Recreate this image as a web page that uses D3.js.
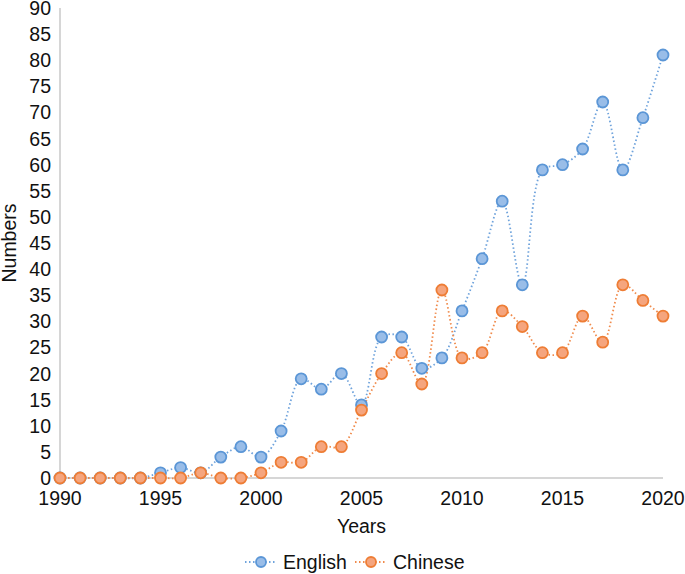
<!DOCTYPE html>
<html>
<head>
<meta charset="utf-8">
<script src="https://cdn.jsdelivr.net/npm/d3@7"></script>
<style>
  body { margin: 0; background: #fff; }
  text { font-family: "Liberation Sans", Arial, sans-serif; fill: #111; }
</style>
</head>
<body>
<svg id="chart" width="685" height="574"></svg>
<script>
const years = d3.range(1990, 2021)
const english = [0, 0, 0, 0, 0, 1, 2, 1, 4, 6, 4, 9, 19, 17, 20, 14, 27, 27, 21, 23, 32, 42, 53, 37, 59, 60, 63, 72, 59, 69, 81]
const chinese = [0, 0, 0, 0, 0, 0, 0, 1, 0, 0, 1, 3, 3, 6, 6, 13, 20, 24, 18, 36, 23, 24, 32, 29, 24, 24, 31, 26, 37, 34, 31]
const yTicks = d3.range(0, 91, 5)
const xTicks = [1990, 1995, 2000, 2005, 2010, 2015, 2020]

const series = [
  { name: "English", values: english, line: "#6fa3dc", stroke: "#5b96d6", fill: "#99bde8" },
  { name: "Chinese", values: chinese, line: "#f08a4b", stroke: "#ee7d35", fill: "#f5a57e" },
]

const svg = d3.select("#chart")
const x = d3.scaleLinear().domain([1990, 2020]).range([60, 663])
const y = d3.scaleLinear().domain([0, 90]).range([478, 8])
const fs = "19.5px"

// axes lines
svg.append("line")
  .attr("x1", x(1990)).attr("x2", x(1990))
  .attr("y1", y(90)).attr("y2", y(0))
  .attr("stroke", "#c8c8c8").attr("stroke-width", 1.5)
svg.append("line")
  .attr("x1", x(1990)).attr("x2", x(2020))
  .attr("y1", y(0)).attr("y2", y(0))
  .attr("stroke", "#c8c8c8").attr("stroke-width", 1.5)

svg.selectAll(".ytick")
  .data(yTicks)
  .enter()
  .append("text")
  .attr("class", "ytick")
  .attr("x", 51)
  .attr("y", (d) => y(d) + 7)
  .attr("text-anchor", "end")
  .style("font-size", fs)
  .text((d) => d)

svg.selectAll(".xtick")
  .data(xTicks)
  .enter()
  .append("text")
  .attr("class", "xtick")
  .attr("x", (d) => x(d))
  .attr("y", 505)
  .attr("text-anchor", "middle")
  .style("font-size", fs)
  .text((d) => d)

svg.append("text")
  .attr("x", x(2005))
  .attr("y", 533)
  .attr("text-anchor", "middle")
  .style("font-size", fs)
  .text("Years")

svg.append("text")
  .attr("transform", `translate(16,${y(45)}) rotate(-90)`)
  .attr("text-anchor", "middle")
  .style("font-size", fs)
  .text("Numbers")

const line = d3.line()
  .x((d, i) => x(years[i]))
  .y((d) => y(d))
  .curve(d3.curveCatmullRom.alpha(0.5))

series.forEach((s) => {
  svg.append("path")
    .attr("d", line(s.values))
    .attr("fill", "none")
    .attr("stroke", s.line)
    .attr("stroke-width", 1.8)
    .attr("stroke-dasharray", "1.5,2.5")
})

series.forEach((s) => {
  svg.selectAll(".pt-" + s.name)
    .data(s.values)
    .enter()
    .append("circle")
    .attr("cx", (d, i) => x(years[i]))
    .attr("cy", (d) => y(d))
    .attr("r", 5.5)
    .attr("fill", s.fill)
    .attr("stroke", s.stroke)
    .attr("stroke-width", 1.8)
})

// legend
const legendX = [245, 355]
series.forEach((s, i) => {
  const g = svg.append("g").attr("transform", `translate(${legendX[i]},562)`)
  g.append("line")
    .attr("x1", 0).attr("x2", 32)
    .attr("stroke", s.line).attr("stroke-width", 1.8)
    .attr("stroke-dasharray", "1.5,2.5")
  g.append("circle")
    .attr("cx", 16).attr("r", 5)
    .attr("fill", s.fill).attr("stroke", s.stroke).attr("stroke-width", 1.8)
  g.append("text")
    .attr("x", 38).attr("y", 7)
    .style("font-size", fs)
    .text(s.name)
})
</script>
</body>
</html>
